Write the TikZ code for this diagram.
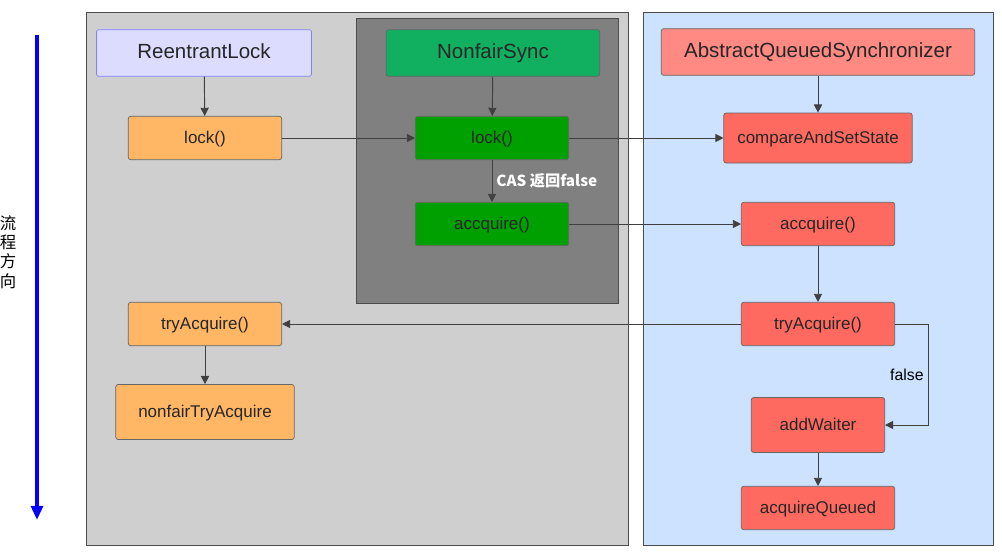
\documentclass[tikz,border=0pt]{standalone}
\usepackage{fontspec}
\setmainfont{Liberation Sans}
\newfontfamily\cjk{Noto Sans CJK SC}
\usetikzlibrary{arrows.meta}
\definecolor{lav}{HTML}{DCDCFF}
\definecolor{grn}{HTML}{10B060}
\definecolor{grd}{HTML}{00A000}
\definecolor{sal}{HTML}{FF8A84}
\definecolor{red2}{HTML}{FF6A60}
\definecolor{org}{HTML}{FFB766}
\definecolor{pblue}{HTML}{CCE2FF}
\begin{document}
\begin{tikzpicture}[x=0.03cm,y=-0.03cm, semithick,
  box/.style={draw=black!60, rounded corners=2pt, minimum height=1.3cm, text=black!85,
    text height=1.9ex, text depth=0.2ex, font=\fontsize{14.5}{16}\selectfont},
  head/.style={box, minimum height=1.4cm, font=\fontsize{17.5}{20}\selectfont},
  flow/.style={-{Triangle[length=7pt,width=7pt]}, thick, draw=black!75}]
\useasboundingbox (0,0) rectangle (1002,553);

% panels
\draw[black!70, fill=black!19] (86,12) rectangle (628,545);
\draw[black!70, fill=black!50] (356,18) rectangle (618,303);
\draw[black!70, fill=pblue] (643,12) rectangle (993,545);

% direction
\draw[blue, line width=3pt, -{Triangle[length=12pt,width=10pt]}] (37,35) -- (37,520);
\node[font=\cjk\fontsize{14}{16.5}\selectfont, align=center] (dir) at (8,252) {流\\程\\方\\向};

% heads
\node[head, fill=lav, draw=blue!50, minimum width=6.45cm] (rl) at (204,53) {ReentrantLock};
\node[head, fill=grn, minimum width=6.4cm] (ns) at (493,53) {NonfairSync};
\node[head, fill=sal, minimum width=9.4cm] (aqs) at (818,52) {AbstractQueuedSynchronizer};

% left column
\node[box, fill=org, minimum width=4.6cm] (lockA) at (205,138) {lock()};
\node[box, fill=org, minimum width=4.6cm] (tryA) at (205,324) {tryAcquire()};
\node[box, fill=org, minimum width=5.35cm, minimum height=1.65cm] (nfta) at (205,412) {nonfairTryAcquire};

% sync column
\node[box, fill=grd, minimum width=4.6cm] (lockB) at (492,138) {lock()};
\node[box, fill=grd, minimum width=4.6cm] (acqB) at (492,224) {accquire()};

% aqs column
\node[box, fill=red2, minimum width=5.65cm, minimum height=1.5cm] (cas) at (818,138) {compareAndSetState};
\node[box, fill=red2, minimum width=4.6cm] (acqC) at (818,224) {accquire()};
\node[box, fill=red2, minimum width=4.6cm] (tryC) at (818,324) {tryAcquire()};
\node[box, fill=red2, minimum width=4cm, minimum height=1.65cm] (addw) at (818,425) {addWaiter};
\node[box, fill=red2, minimum width=4.6cm] (aq) at (818,508) {acquireQueued};

\coordinate (turn1) at (928,324);
\coordinate (turn2) at (928,425);

\draw[flow] (rl) -- (lockA);
\draw[flow] (ns) -- (lockB);
\draw[flow] (aqs) -- (cas);
\draw[flow] (lockA) -- (lockB);
\draw[flow] (lockB) -- (cas);
\draw[flow] (lockB) -- node[right, text=white, font=\cjk\fontsize{13}{15}\selectfont\bfseries] {CAS 返回false} (acqB);
\draw[flow] (acqB) -- (acqC);
\draw[flow] (acqC) -- (tryC);
\draw[flow] (tryC) -- (tryA);
\draw[flow] (tryA) -- (nfta);
\draw[flow] (tryC) -- (turn1) -- node[left, font=\fontsize{13.5}{15}\selectfont] {false} (turn2) -- (addw);
\draw[flow] (addw) -- (aq);
\end{tikzpicture}
\end{document}
